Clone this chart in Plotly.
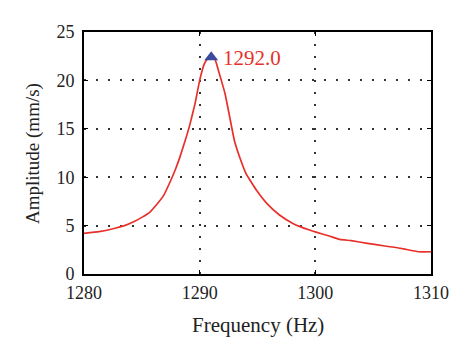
import plotly.graph_objects as go

freq = [1280.0, 1281.3, 1282.6, 1283.5, 1284.3, 1285.0, 1285.7, 1286.3, 1286.9, 1287.4,
        1287.9, 1288.3, 1288.7, 1289.1, 1289.6, 1290.0, 1290.4, 1290.7, 1291.0, 1291.3,
        1291.7, 1292.2, 1292.6, 1293.0, 1293.6, 1294.0, 1294.4, 1294.9, 1295.8, 1296.9,
        1298.1, 1299.5, 1300.0, 1301.2, 1302.1, 1303.1, 1304.5, 1306.0, 1307.4, 1308.9,
        1310.0]
amp = [4.2, 4.37, 4.7, 5.0, 5.4, 5.85, 6.4, 7.2, 8.15, 9.4,
       10.8, 12.1, 13.6, 15.2, 17.6, 20.0, 21.7, 22.25, 22.4, 22.25,
       20.7, 18.6, 16.2, 13.8, 11.6, 10.4, 9.6, 8.67, 7.3, 6.1,
       5.2, 4.54, 4.35, 3.92, 3.58, 3.44, 3.17, 2.89, 2.65, 2.3,
       2.3]

peak_freq = [1291.0]
peak_amp = [22.4]
peak_label = "1292.0"

x_ticks = [1280, 1290, 1300, 1310]
y_ticks = [0, 5, 10, 15, 20, 25]
x_title = "Frequency (Hz)"
y_title = "Amplitude (mm/s)"

font_family = "Liberation Serif"
text_color = "#222222"

fig = go.Figure()
fig.add_trace(go.Scatter(x=freq, y=amp, mode="lines",
                         line=dict(color="#e8302a", width=1.7, shape="spline", smoothing=0.4),
                         showlegend=False, cliponaxis=False))
fig.add_trace(go.Scatter(x=peak_freq, y=peak_amp, mode="markers",
                         marker=dict(symbol="triangle-up", size=12, color="#3b4a9c"),
                         showlegend=False, cliponaxis=False))
fig.add_annotation(x=peak_freq[0], y=peak_amp[0], text=peak_label, showarrow=False,
                   xanchor="left", yanchor="middle", xshift=10, yshift=-1,
                   font=dict(color="#e8302a", size=21, family=font_family))

axis_common = dict(
    showline=True, linecolor="black", linewidth=1.6, mirror="ticks",
    ticks="inside", ticklen=4, tickcolor="black", tickwidth=1.2,
    showgrid=True, gridcolor="#333333", griddash="1.6px,10.4px", gridwidth=1.6,
    zeroline=False, automargin=False,
    tickfont=dict(family=font_family, size=18, color=text_color),
)

fig.update_xaxes(range=[1280, 1310], tickvals=x_ticks, ticklabelstandoff=2, **axis_common)
fig.update_yaxes(range=[0, 25], tickvals=y_ticks, ticklabelstandoff=4, **axis_common)

fig.add_annotation(text=x_title, xref="paper", yref="paper", x=0.5, y=-0.211,
                   yanchor="middle", showarrow=False,
                   font=dict(family=font_family, size=21, color=text_color))
fig.add_annotation(text=y_title, xref="paper", yref="paper", x=-0.147, y=0.5,
                   xanchor="center", yanchor="middle", textangle=-90, showarrow=False,
                   font=dict(family=font_family, size=19, color=text_color))

fig.update_layout(
    width=466, height=351,
    margin=dict(l=76, r=43, t=24, b=85),
    plot_bgcolor="white", paper_bgcolor="white",
    font=dict(family=font_family),
)

fig.write_html("out.html")
